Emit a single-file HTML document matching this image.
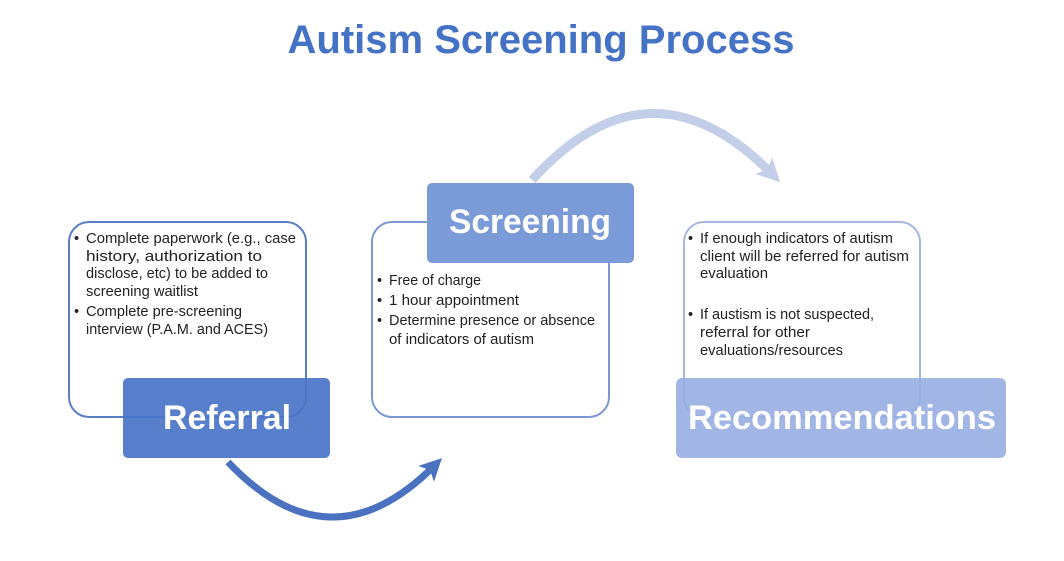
<!DOCTYPE html>
<html><head><meta charset="utf-8"><style>
html,body{margin:0;padding:0;background:#fff;width:1064px;height:561px;overflow:hidden}
svg{display:block}
text{font-family:"Liberation Sans",sans-serif}
.t{font-size:14.5px;fill:#222}
.l{font-size:34px;font-weight:bold;fill:#fff}
</style></head><body>
<svg width="1064" height="561" viewBox="0 0 1064 561" xmlns="http://www.w3.org/2000/svg">
<defs>
<marker id="a1" markerWidth="3.2" markerHeight="3.2" refX="1.6" refY="1.6" orient="auto" markerUnits="strokeWidth"><path d="M0,0 L3.2,1.6 L0,3.2 L0.8,1.6 z" fill="#4a72c0"/></marker>
<marker id="a2" markerWidth="2.6" markerHeight="2.6" refX="1.3" refY="1.3" orient="auto" markerUnits="strokeWidth"><path d="M0,0 L2.6,1.3 L0,2.6 L0.6,1.3 z" fill="#c3cfe9"/></marker>
</defs>
<text x="541" y="53" text-anchor="middle" font-size="40" font-weight="bold" fill="#4472c4" textLength="507" lengthAdjust="spacingAndGlyphs">Autism Screening Process</text>

<path d="M228,462 Q330,570 434,466" fill="none" stroke="#4a72c0" stroke-width="7" marker-end="url(#a1)"/>
<path d="M532,180 Q650,50 772,174" fill="none" stroke="#c3cfe9" stroke-width="9" marker-end="url(#a2)"/>

<rect x="69" y="222" width="237" height="195" rx="20" fill="#fff" stroke="#5a7ec4" stroke-width="2"/>
<g class="t">
<text x="74" y="243">•</text>
<text x="86" y="243" textLength="210" lengthAdjust="spacingAndGlyphs">Complete paperwork (e.g., case</text>
<text x="86" y="261" textLength="176" lengthAdjust="spacingAndGlyphs">history, authorization to</text>
<text x="86" y="278" textLength="182" lengthAdjust="spacingAndGlyphs">disclose, etc) to be added to</text>
<text x="86" y="296" textLength="112" lengthAdjust="spacingAndGlyphs">screening waitlist</text>
<text x="74" y="316">•</text>
<text x="86" y="316" textLength="156" lengthAdjust="spacingAndGlyphs">Complete pre-screening</text>
<text x="86" y="334" textLength="182" lengthAdjust="spacingAndGlyphs">interview (P.A.M. and ACES)</text>
</g>
<rect x="123" y="378" width="207" height="80" rx="5" fill="#4a74c8" fill-opacity="0.92"/>
<text class="l" x="227" y="429" text-anchor="middle" textLength="128" lengthAdjust="spacingAndGlyphs">Referral</text>

<rect x="372" y="222" width="237" height="195" rx="20" fill="#fff" stroke="#7b98d4" stroke-width="2"/>
<g class="t">
<text x="377" y="285">•</text>
<text x="389" y="285" textLength="92" lengthAdjust="spacingAndGlyphs">Free of charge</text>
<text x="377" y="305">•</text>
<text x="389" y="305" textLength="130" lengthAdjust="spacingAndGlyphs">1 hour appointment</text>
<text x="377" y="325">•</text>
<text x="389" y="325" textLength="206" lengthAdjust="spacingAndGlyphs">Determine presence or absence</text>
<text x="389" y="344" textLength="145" lengthAdjust="spacingAndGlyphs">of indicators of autism</text>
</g>
<rect x="427" y="183" width="207" height="80" rx="5" fill="#7a9bd8"/>
<text class="l" x="530" y="233" text-anchor="middle" textLength="162" lengthAdjust="spacingAndGlyphs">Screening</text>

<rect x="684" y="222" width="236" height="195" rx="20" fill="#fff" stroke="#a6b8e0" stroke-width="2"/>
<g class="t">
<text x="688" y="243">•</text>
<text x="700" y="243" textLength="193" lengthAdjust="spacingAndGlyphs">If enough indicators of autism</text>
<text x="700" y="261" textLength="209" lengthAdjust="spacingAndGlyphs">client will be referred for autism</text>
<text x="700" y="278" textLength="68" lengthAdjust="spacingAndGlyphs">evaluation</text>
<text x="688" y="319">•</text>
<text x="700" y="319" textLength="174" lengthAdjust="spacingAndGlyphs">If austism is not suspected,</text>
<text x="700" y="337" textLength="110" lengthAdjust="spacingAndGlyphs">referral for other</text>
<text x="700" y="355" textLength="143" lengthAdjust="spacingAndGlyphs">evaluations/resources</text>
</g>
<rect x="676" y="378" width="330" height="80" rx="6" fill="#94ace0" fill-opacity="0.88"/>
<text class="l" x="842" y="429" text-anchor="middle" textLength="308" lengthAdjust="spacingAndGlyphs">Recommendations</text>
</svg>
</body></html>
